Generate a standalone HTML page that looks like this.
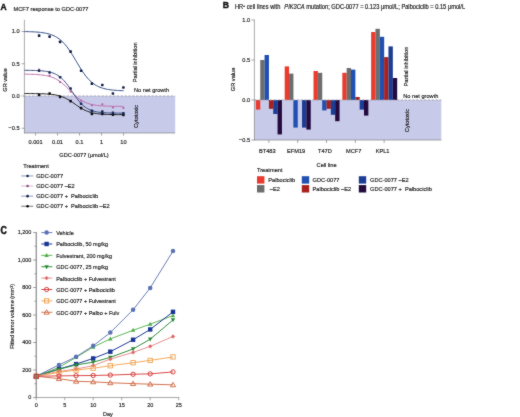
<!DOCTYPE html>
<html><head><meta charset="utf-8"><style>
html,body{margin:0;padding:0;background:#fff;}
svg{display:block;font-family:"Liberation Sans", sans-serif;}
text{stroke:#1c1c1c;stroke-width:0.16px;}
#w{width:520px;height:417px;overflow:hidden;will-change:transform;}
</style></head><body>
<div id="w"><svg width="520" height="417" viewBox="0 0 520 417">
<defs><filter id="bl" x="0" y="0" width="520" height="417" filterUnits="userSpaceOnUse" color-interpolation-filters="sRGB"><feConvolveMatrix order="3" kernelMatrix="1 2 1 2 24 2 1 2 1" edgeMode="duplicate"/></filter></defs>
<g filter="url(#bl)">
<rect width="520" height="417" fill="#fff"/>
<text transform="translate(0.55,9.75) scale(0.9,1)" x="0" y="0" font-size="9.4" font-weight="bold" fill="#111" style="stroke:#111;stroke-width:0.45px">A</text>
<text transform="translate(13.60,10.70) scale(1,1.1)" text-anchor="start" font-size="5.65" fill="#1c1c1c" >MCF7 response to GDC-0077</text>
<rect x="24.40" y="96.00" width="150.80" height="37.00" fill="#c8caea" />
<line x1="24.40" y1="96.00" x2="175.20" y2="96.00" stroke="#9e9eaa" stroke-width="0.9" stroke-dasharray="2.4 1.45"/>
<line x1="24.40" y1="19.80" x2="24.40" y2="133.30" stroke="#6e6e6e" stroke-width="0.6" />
<line x1="24.10" y1="133.00" x2="175.20" y2="133.00" stroke="#6e6e6e" stroke-width="0.6" />
<line x1="21.60" y1="31.50" x2="24.40" y2="31.50" stroke="#6e6e6e" stroke-width="0.6" />
<text transform="translate(19.60,33.40) scale(1,1.1)" text-anchor="end" font-size="5.65" fill="#1c1c1c" >1.0</text>
<line x1="21.60" y1="63.75" x2="24.40" y2="63.75" stroke="#6e6e6e" stroke-width="0.6" />
<text transform="translate(19.60,65.65) scale(1,1.1)" text-anchor="end" font-size="5.65" fill="#1c1c1c" >0.5</text>
<line x1="21.60" y1="96.00" x2="24.40" y2="96.00" stroke="#6e6e6e" stroke-width="0.6" />
<text transform="translate(19.60,97.90) scale(1,1.1)" text-anchor="end" font-size="5.65" fill="#1c1c1c" >0.0</text>
<line x1="21.60" y1="128.25" x2="24.40" y2="128.25" stroke="#6e6e6e" stroke-width="0.6" />
<text transform="translate(19.60,130.15) scale(1,1.1)" text-anchor="end" font-size="5.65" fill="#1c1c1c" >−0.5</text>
<line x1="35.50" y1="133.00" x2="35.50" y2="135.60" stroke="#6e6e6e" stroke-width="0.6" />
<text transform="translate(35.50,143.80) scale(1,1.1)" text-anchor="middle" font-size="5.65" fill="#1c1c1c" >0.001</text>
<line x1="57.50" y1="133.00" x2="57.50" y2="135.60" stroke="#6e6e6e" stroke-width="0.6" />
<text transform="translate(57.50,143.80) scale(1,1.1)" text-anchor="middle" font-size="5.65" fill="#1c1c1c" >0.01</text>
<line x1="79.50" y1="133.00" x2="79.50" y2="135.60" stroke="#6e6e6e" stroke-width="0.6" />
<text transform="translate(79.50,143.80) scale(1,1.1)" text-anchor="middle" font-size="5.65" fill="#1c1c1c" >0.1</text>
<line x1="101.50" y1="133.00" x2="101.50" y2="135.60" stroke="#6e6e6e" stroke-width="0.6" />
<text transform="translate(101.50,143.80) scale(1,1.1)" text-anchor="middle" font-size="5.65" fill="#1c1c1c" >1</text>
<line x1="123.50" y1="133.00" x2="123.50" y2="135.60" stroke="#6e6e6e" stroke-width="0.6" />
<text transform="translate(123.50,143.80) scale(1,1.1)" text-anchor="middle" font-size="5.65" fill="#1c1c1c" >10</text>
<text transform="translate(84.00,156.70) scale(1,1.1)" text-anchor="middle" font-size="5.65" fill="#1c1c1c" >GDC-0077 (μmol/L)</text>
<text transform="translate(4.30,80.00) rotate(-90) scale(1,1.1)" x="0" y="2.03" text-anchor="middle" font-size="5.65" fill="#1c1c1c">GR value</text>
<text transform="translate(134.00,92.00) scale(1,1.1)" text-anchor="start" font-size="5.65" fill="#1c1c1c" >No net growth</text>
<text transform="translate(134.60,62.30) rotate(-90) scale(1,1.1)" x="0" y="2.03" text-anchor="middle" font-size="5.65" fill="#1c1c1c">Partial inhibition</text>
<text transform="translate(136.00,116.40) rotate(-90) scale(1,1.1)" x="0" y="2.03" text-anchor="middle" font-size="5.65" fill="#1c1c1c">Cytotoxic</text>
<path d="M24.40,74.11 L25.64,74.13 L26.88,74.15 L28.12,74.18 L29.36,74.21 L30.60,74.25 L31.84,74.29 L33.08,74.33 L34.32,74.39 L35.56,74.45 L36.80,74.53 L38.04,74.62 L39.28,74.72 L40.52,74.83 L41.76,74.97 L43.00,75.13 L44.24,75.31 L45.48,75.51 L46.72,75.76 L47.96,76.03 L49.20,76.35 L50.44,76.71 L51.68,77.12 L52.92,77.58 L54.16,78.11 L55.40,78.70 L56.64,79.35 L57.88,80.08 L59.12,80.88 L60.36,81.76 L61.60,82.71 L62.84,83.74 L64.08,84.82 L65.32,85.97 L66.56,87.16 L67.80,88.39 L69.04,89.63 L70.28,90.89 L71.52,92.13 L72.76,93.36 L74.00,94.55 L75.24,95.69 L76.48,96.77 L77.72,97.78 L78.96,98.73 L80.20,99.60 L81.44,100.39 L82.68,101.11 L83.92,101.76 L85.16,102.35 L86.40,102.87 L87.64,103.32 L88.88,103.73 L90.12,104.09 L91.36,104.40 L92.60,104.67 L93.84,104.91 L95.08,105.11 L96.32,105.29 L97.56,105.45 L98.80,105.58 L100.04,105.69 L101.28,105.79 L102.52,105.88 L103.76,105.95 L105.00,106.02 L106.24,106.07 L107.48,106.12 L108.72,106.16 L109.96,106.19 L111.20,106.22 L112.44,106.25 L113.68,106.27 L114.92,106.29 L116.16,106.30 L117.40,106.32 L118.64,106.33 L119.88,106.34 L121.12,106.35 L122.36,106.36 L123.60,106.36" fill="none" stroke="#bd6fae" stroke-width="1.0"/>
<rect x="38.10" y="68.60" width="2.0" height="2.0" rx="0.7" fill="#b25ea2"/>
<rect x="48.60" y="74.60" width="2.0" height="2.0" rx="0.7" fill="#b25ea2"/>
<rect x="59.10" y="81.10" width="2.0" height="2.0" rx="0.7" fill="#b25ea2"/>
<rect x="69.60" y="90.60" width="2.0" height="2.0" rx="0.7" fill="#b25ea2"/>
<rect x="80.10" y="99.80" width="2.0" height="2.0" rx="0.7" fill="#b25ea2"/>
<rect x="90.90" y="104.20" width="2.0" height="2.0" rx="0.7" fill="#b25ea2"/>
<rect x="101.30" y="103.20" width="2.0" height="2.0" rx="0.7" fill="#b25ea2"/>
<rect x="111.90" y="106.40" width="2.0" height="2.0" rx="0.7" fill="#b25ea2"/>
<rect x="122.40" y="106.90" width="2.0" height="2.0" rx="0.7" fill="#b25ea2"/>
<path d="M24.40,93.52 L25.64,93.53 L26.88,93.53 L28.12,93.54 L29.36,93.55 L30.60,93.56 L31.84,93.57 L33.08,93.58 L34.32,93.59 L35.56,93.61 L36.80,93.63 L38.04,93.65 L39.28,93.68 L40.52,93.71 L41.76,93.75 L43.00,93.79 L44.24,93.85 L45.48,93.91 L46.72,93.98 L47.96,94.06 L49.20,94.16 L50.44,94.27 L51.68,94.41 L52.92,94.56 L54.16,94.74 L55.40,94.95 L56.64,95.19 L57.88,95.46 L59.12,95.78 L60.36,96.14 L61.60,96.54 L62.84,97.00 L64.08,97.51 L65.32,98.07 L66.56,98.69 L67.80,99.37 L69.04,100.10 L70.28,100.87 L71.52,101.68 L72.76,102.53 L74.00,103.39 L75.24,104.27 L76.48,105.14 L77.72,106.00 L78.96,106.84 L80.20,107.63 L81.44,108.39 L82.68,109.10 L83.92,109.75 L85.16,110.35 L86.40,110.90 L87.64,111.38 L88.88,111.82 L90.12,112.21 L91.36,112.55 L92.60,112.85 L93.84,113.11 L95.08,113.34 L96.32,113.53 L97.56,113.70 L98.80,113.85 L100.04,113.97 L101.28,114.08 L102.52,114.17 L103.76,114.25 L105.00,114.32 L106.24,114.38 L107.48,114.42 L108.72,114.47 L109.96,114.50 L111.20,114.53 L112.44,114.56 L113.68,114.58 L114.92,114.60 L116.16,114.61 L117.40,114.63 L118.64,114.64 L119.88,114.65 L121.12,114.65 L122.36,114.66 L123.60,114.67" fill="none" stroke="#1a1a1a" stroke-width="1.0"/>
<rect x="37.80" y="93.70" width="2.6" height="2.6" rx="0.7" fill="#0d0d0d"/>
<rect x="48.30" y="92.20" width="2.6" height="2.6" rx="0.7" fill="#0d0d0d"/>
<rect x="58.80" y="95.60" width="2.6" height="2.6" rx="0.7" fill="#0d0d0d"/>
<rect x="69.30" y="99.80" width="2.6" height="2.6" rx="0.7" fill="#0d0d0d"/>
<rect x="79.80" y="106.80" width="2.6" height="2.6" rx="0.7" fill="#0d0d0d"/>
<rect x="90.60" y="112.70" width="2.6" height="2.6" rx="0.7" fill="#0d0d0d"/>
<rect x="101.00" y="112.70" width="2.6" height="2.6" rx="0.7" fill="#0d0d0d"/>
<rect x="111.60" y="113.40" width="2.6" height="2.6" rx="0.7" fill="#0d0d0d"/>
<rect x="122.10" y="113.70" width="2.6" height="2.6" rx="0.7" fill="#0d0d0d"/>
<path d="M24.40,70.31 L25.64,70.32 L26.88,70.33 L28.12,70.34 L29.36,70.36 L30.60,70.38 L31.84,70.41 L33.08,70.44 L34.32,70.47 L35.56,70.51 L36.80,70.56 L38.04,70.62 L39.28,70.69 L40.52,70.77 L41.76,70.87 L43.00,70.98 L44.24,71.12 L45.48,71.28 L46.72,71.46 L47.96,71.68 L49.20,71.94 L50.44,72.24 L51.68,72.60 L52.92,73.01 L54.16,73.49 L55.40,74.05 L56.64,74.69 L57.88,75.42 L59.12,76.26 L60.36,77.20 L61.60,78.26 L62.84,79.45 L64.08,80.75 L65.32,82.18 L66.56,83.72 L67.80,85.36 L69.04,87.09 L70.28,88.88 L71.52,90.71 L72.76,92.56 L74.00,94.40 L75.24,96.19 L76.48,97.93 L77.72,99.58 L78.96,101.13 L80.20,102.56 L81.44,103.88 L82.68,105.08 L83.92,106.15 L85.16,107.11 L86.40,107.95 L87.64,108.70 L88.88,109.35 L90.12,109.91 L91.36,110.40 L92.60,110.81 L93.84,111.17 L95.08,111.48 L96.32,111.74 L97.56,111.97 L98.80,112.16 L100.04,112.32 L101.28,112.46 L102.52,112.57 L103.76,112.67 L105.00,112.75 L106.24,112.82 L107.48,112.88 L108.72,112.93 L109.96,112.97 L111.20,113.01 L112.44,113.04 L113.68,113.07 L114.92,113.09 L116.16,113.10 L117.40,113.12 L118.64,113.13 L119.88,113.14 L121.12,113.15 L122.36,113.16 L123.60,113.17" fill="none" stroke="#3a4b7c" stroke-width="1.0"/>
<rect x="37.80" y="69.40" width="2.6" height="2.6" rx="0.7" fill="#152a5a"/>
<rect x="48.30" y="71.20" width="2.6" height="2.6" rx="0.7" fill="#152a5a"/>
<rect x="58.80" y="75.90" width="2.6" height="2.6" rx="0.7" fill="#152a5a"/>
<rect x="69.30" y="87.20" width="2.6" height="2.6" rx="0.7" fill="#152a5a"/>
<rect x="79.80" y="102.40" width="2.6" height="2.6" rx="0.7" fill="#152a5a"/>
<rect x="90.60" y="109.60" width="2.6" height="2.6" rx="0.7" fill="#152a5a"/>
<rect x="101.00" y="110.30" width="2.6" height="2.6" rx="0.7" fill="#152a5a"/>
<rect x="111.60" y="111.40" width="2.6" height="2.6" rx="0.7" fill="#152a5a"/>
<rect x="122.10" y="112.10" width="2.6" height="2.6" rx="0.7" fill="#152a5a"/>
<path d="M24.40,31.57 L25.64,31.59 L26.88,31.62 L28.12,31.65 L29.36,31.69 L30.60,31.73 L31.84,31.78 L33.08,31.84 L34.32,31.91 L35.56,31.98 L36.80,32.07 L38.04,32.17 L39.28,32.28 L40.52,32.42 L41.76,32.57 L43.00,32.74 L44.24,32.94 L45.48,33.16 L46.72,33.42 L47.96,33.71 L49.20,34.05 L50.44,34.43 L51.68,34.86 L52.92,35.35 L54.16,35.90 L55.40,36.52 L56.64,37.22 L57.88,38.01 L59.12,38.88 L60.36,39.85 L61.60,40.93 L62.84,42.11 L64.08,43.41 L65.32,44.81 L66.56,46.34 L67.80,47.97 L69.04,49.70 L70.28,51.54 L71.52,53.46 L72.76,55.45 L74.00,57.49 L75.24,59.58 L76.48,61.67 L77.72,63.77 L78.96,65.84 L80.20,67.86 L81.44,69.82 L82.68,71.70 L83.92,73.49 L85.16,75.18 L86.40,76.77 L87.64,78.24 L88.88,79.59 L90.12,80.84 L91.36,81.97 L92.60,83.00 L93.84,83.92 L95.08,84.76 L96.32,85.50 L97.56,86.17 L98.80,86.76 L100.04,87.28 L101.28,87.74 L102.52,88.15 L103.76,88.51 L105.00,88.82 L106.24,89.10 L107.48,89.34 L108.72,89.56 L109.96,89.74 L111.20,89.90 L112.44,90.05 L113.68,90.17 L114.92,90.28 L116.16,90.37 L117.40,90.45 L118.64,90.52 L119.88,90.59 L121.12,90.64 L122.36,90.69 L123.60,90.73" fill="none" stroke="#324d88" stroke-width="1.0"/>
<rect x="37.80" y="34.30" width="2.6" height="2.6" rx="0.7" fill="#101c40"/>
<rect x="48.30" y="35.30" width="2.6" height="2.6" rx="0.7" fill="#101c40"/>
<rect x="58.80" y="40.60" width="2.6" height="2.6" rx="0.7" fill="#101c40"/>
<rect x="69.30" y="50.30" width="2.6" height="2.6" rx="0.7" fill="#101c40"/>
<rect x="79.80" y="69.40" width="2.6" height="2.6" rx="0.7" fill="#101c40"/>
<rect x="90.60" y="82.30" width="2.6" height="2.6" rx="0.7" fill="#101c40"/>
<rect x="101.00" y="83.70" width="2.6" height="2.6" rx="0.7" fill="#101c40"/>
<rect x="111.60" y="92.20" width="2.6" height="2.6" rx="0.7" fill="#101c40"/>
<rect x="122.10" y="86.20" width="2.6" height="2.6" rx="0.7" fill="#101c40"/>
<text transform="translate(23.30,167.70) scale(1,1.1)" text-anchor="start" font-size="5.65" fill="#1c1c1c" >Treatment</text>
<line x1="21.20" y1="175.95" x2="33.20" y2="175.95" stroke="#4d62a0" stroke-width="0.65" />
<circle cx="27.6" cy="175.95" r="1.3" fill="#141f44"/>
<text transform="translate(36.20,177.85) scale(1,1.1)" text-anchor="start" font-size="5.65" fill="#1c1c1c" >GDC-0077</text>
<line x1="21.20" y1="186.05" x2="33.20" y2="186.05" stroke="#c58cbc" stroke-width="0.65" />
<circle cx="27.6" cy="186.04999999999998" r="1.3" fill="#8c4a80"/>
<text transform="translate(36.20,187.95) scale(1,1.1)" text-anchor="start" font-size="5.65" fill="#1c1c1c" >GDC-0077 –E2</text>
<line x1="21.20" y1="196.15" x2="33.20" y2="196.15" stroke="#4d62a0" stroke-width="0.65" />
<circle cx="27.6" cy="196.14999999999998" r="1.3" fill="#141f44"/>
<text transform="translate(36.20,198.05) scale(1,1.1)" text-anchor="start" font-size="5.65" fill="#1c1c1c" >GDC-0077 +&#160; Palbociclib</text>
<line x1="21.20" y1="206.25" x2="33.20" y2="206.25" stroke="#2a2a2a" stroke-width="0.65" />
<circle cx="27.6" cy="206.25" r="1.3" fill="#000"/>
<text transform="translate(36.20,208.15) scale(1,1.1)" text-anchor="start" font-size="5.65" fill="#1c1c1c" >GDC-0077 +&#160; Palbociclib –E2</text>
<text transform="translate(222.7,8.1) scale(0.92,1)" x="0" y="0" font-size="9.4" font-weight="bold" fill="#111" style="stroke:#111;stroke-width:0.45px">B</text>
<text transform="translate(235,8.80) scale(1,1.1)" font-size="5.72" fill="#1c1c1c">HR<tspan font-size="3.8" dy="-2.0" dx="-0.3">+</tspan><tspan dy="2.0"> cell lines with </tspan><tspan font-style="italic" dx="2.4">PIK3CA</tspan> mutation; GDC-0077 = 0.123 μmol/L; Palbociclib = 0.15 μmol/L</text>
<rect x="254.40" y="100.00" width="186.90" height="40.00" fill="#c8caea" />
<rect x="255.90" y="100.00" width="4.38" height="9.60" fill="#eb3a2e" />
<rect x="260.23" y="60.00" width="4.38" height="40.00" fill="#6c6e6e" />
<rect x="264.56" y="55.00" width="4.38" height="45.00" fill="#1f50b2" />
<rect x="268.89" y="100.00" width="4.38" height="8.80" fill="#a8211c" />
<rect x="273.22" y="100.00" width="4.38" height="14.00" fill="#1b3d94" />
<rect x="277.55" y="100.00" width="4.38" height="34.40" fill="#240a3e" />
<rect x="284.71" y="66.40" width="4.38" height="33.60" fill="#eb3a2e" />
<rect x="289.04" y="73.60" width="4.38" height="26.40" fill="#6c6e6e" />
<rect x="293.37" y="100.00" width="4.38" height="27.60" fill="#1f50b2" />
<rect x="297.70" y="100.00" width="4.38" height="0.00" fill="#a8211c" />
<rect x="302.03" y="100.00" width="4.38" height="27.60" fill="#1b3d94" />
<rect x="306.36" y="100.00" width="4.38" height="29.60" fill="#240a3e" />
<rect x="313.52" y="71.00" width="4.38" height="29.00" fill="#eb3a2e" />
<rect x="317.85" y="72.80" width="4.38" height="27.20" fill="#6c6e6e" />
<rect x="322.18" y="100.00" width="4.38" height="10.40" fill="#1f50b2" />
<rect x="326.51" y="100.00" width="4.38" height="8.80" fill="#a8211c" />
<rect x="330.84" y="100.00" width="4.38" height="14.80" fill="#1b3d94" />
<rect x="335.17" y="100.00" width="4.38" height="21.20" fill="#240a3e" />
<rect x="342.33" y="72.80" width="4.38" height="27.20" fill="#eb3a2e" />
<rect x="346.66" y="68.00" width="4.38" height="32.00" fill="#6c6e6e" />
<rect x="350.99" y="69.60" width="4.38" height="30.40" fill="#1f50b2" />
<rect x="355.32" y="97.00" width="4.38" height="3.00" fill="#a8211c" />
<rect x="359.65" y="100.00" width="4.38" height="9.60" fill="#1b3d94" />
<rect x="363.98" y="100.00" width="4.38" height="15.60" fill="#240a3e" />
<rect x="371.14" y="32.00" width="4.38" height="68.00" fill="#eb3a2e" />
<rect x="375.47" y="28.80" width="4.38" height="71.20" fill="#6c6e6e" />
<rect x="379.80" y="36.80" width="4.38" height="63.20" fill="#1f50b2" />
<rect x="384.13" y="57.12" width="4.38" height="42.88" fill="#a8211c" />
<rect x="388.46" y="46.40" width="4.38" height="53.60" fill="#1b3d94" />
<rect x="392.79" y="78.00" width="4.38" height="22.00" fill="#240a3e" />
<line x1="254.40" y1="100.00" x2="441.30" y2="100.00" stroke="#9e9eaa" stroke-width="0.9" stroke-dasharray="2.4 1.45"/>
<line x1="254.40" y1="19.60" x2="254.40" y2="140.30" stroke="#6e6e6e" stroke-width="0.6" />
<line x1="254.10" y1="140.00" x2="441.30" y2="140.00" stroke="#6e6e6e" stroke-width="0.6" />
<line x1="251.30" y1="20.00" x2="254.40" y2="20.00" stroke="#6e6e6e" stroke-width="0.6" />
<text transform="translate(250.20,21.90) scale(1,1.1)" text-anchor="end" font-size="5.65" fill="#1c1c1c" >1.0</text>
<line x1="251.30" y1="60.00" x2="254.40" y2="60.00" stroke="#6e6e6e" stroke-width="0.6" />
<text transform="translate(250.20,61.90) scale(1,1.1)" text-anchor="end" font-size="5.65" fill="#1c1c1c" >0.5</text>
<line x1="251.30" y1="100.00" x2="254.40" y2="100.00" stroke="#6e6e6e" stroke-width="0.6" />
<text transform="translate(250.20,101.90) scale(1,1.1)" text-anchor="end" font-size="5.65" fill="#1c1c1c" >0.0</text>
<line x1="251.30" y1="140.00" x2="254.40" y2="140.00" stroke="#6e6e6e" stroke-width="0.6" />
<text transform="translate(250.20,141.90) scale(1,1.1)" text-anchor="end" font-size="5.65" fill="#1c1c1c" >−0.5</text>
<line x1="268.89" y1="140.00" x2="268.89" y2="143.00" stroke="#6e6e6e" stroke-width="0.6" />
<text transform="translate(267.29,152.90) scale(1,1.1)" text-anchor="middle" font-size="5.65" fill="#1c1c1c" >BT483</text>
<line x1="297.70" y1="140.00" x2="297.70" y2="143.00" stroke="#6e6e6e" stroke-width="0.6" />
<text transform="translate(296.10,152.90) scale(1,1.1)" text-anchor="middle" font-size="5.65" fill="#1c1c1c" >EFM19</text>
<line x1="326.51" y1="140.00" x2="326.51" y2="143.00" stroke="#6e6e6e" stroke-width="0.6" />
<text transform="translate(324.91,152.90) scale(1,1.1)" text-anchor="middle" font-size="5.65" fill="#1c1c1c" >T47D</text>
<line x1="355.32" y1="140.00" x2="355.32" y2="143.00" stroke="#6e6e6e" stroke-width="0.6" />
<text transform="translate(353.72,152.90) scale(1,1.1)" text-anchor="middle" font-size="5.65" fill="#1c1c1c" >MCF7</text>
<line x1="384.13" y1="140.00" x2="384.13" y2="143.00" stroke="#6e6e6e" stroke-width="0.6" />
<text transform="translate(382.53,152.90) scale(1,1.1)" text-anchor="middle" font-size="5.65" fill="#1c1c1c" >KPL1</text>
<text transform="translate(326.60,166.80) scale(1,1.1)" text-anchor="middle" font-size="5.65" fill="#1c1c1c" >Cell line</text>
<text transform="translate(232.80,79.40) rotate(-90) scale(1,1.1)" x="0" y="2.03" text-anchor="middle" font-size="5.65" fill="#1c1c1c">GR value</text>
<text transform="translate(403.30,97.70) scale(1,1.1)" text-anchor="start" font-size="5.65" fill="#1c1c1c" >No net growth</text>
<text transform="translate(405.90,66.50) rotate(-90) scale(1,1.1)" x="0" y="2.03" text-anchor="middle" font-size="5.65" fill="#1c1c1c">Partial inhibition</text>
<text transform="translate(407.20,120.60) rotate(-90) scale(1,1.1)" x="0" y="2.03" text-anchor="middle" font-size="5.65" fill="#1c1c1c">Cytotoxic</text>
<text transform="translate(257.00,171.90) scale(1,1.1)" text-anchor="start" font-size="5.65" fill="#1c1c1c" >Treatment</text>
<rect x="257.00" y="176.20" width="7.40" height="7.40" fill="#eb3a2e" />
<text transform="translate(268.30,181.90) scale(1,1.1)" text-anchor="start" font-size="5.65" fill="#1c1c1c" >Palbociclib</text>
<rect x="257.00" y="185.10" width="7.40" height="7.40" fill="#6c6e6e" />
<text transform="translate(268.30,191.15) scale(1,1.1)" text-anchor="start" font-size="5.65" fill="#1c1c1c" >&#160;–E2</text>
<rect x="301.80" y="176.20" width="7.40" height="7.40" fill="#1f50b2" />
<text transform="translate(312.50,181.90) scale(1,1.1)" text-anchor="start" font-size="5.65" fill="#1c1c1c" >GDC-0077</text>
<rect x="301.80" y="185.10" width="7.40" height="7.40" fill="#a8211c" />
<text transform="translate(312.50,191.15) scale(1,1.1)" text-anchor="start" font-size="5.65" fill="#1c1c1c" >Palbociclib –E2</text>
<rect x="358.80" y="176.20" width="7.40" height="7.40" fill="#1b3d94" />
<text transform="translate(370.00,181.90) scale(1,1.1)" text-anchor="start" font-size="5.65" fill="#1c1c1c" >GDC-0077 –E2</text>
<rect x="358.80" y="185.10" width="7.40" height="7.40" fill="#240a3e" />
<text transform="translate(370.00,191.15) scale(1,1.1)" text-anchor="start" font-size="5.65" fill="#1c1c1c" >GDC-0077 +&#160; Palbociclib</text>
<text transform="translate(0.6,233.5) scale(0.88,1.04)" x="0" y="0" font-size="10" font-weight="bold" fill="#111" style="stroke:#111;stroke-width:0.45px">C</text>
<line x1="36.25" y1="232.20" x2="36.25" y2="397.80" stroke="#6e6e6e" stroke-width="0.6" />
<line x1="35.95" y1="397.50" x2="179.20" y2="397.50" stroke="#6e6e6e" stroke-width="0.6" />
<line x1="33.00" y1="397.50" x2="36.25" y2="397.50" stroke="#6e6e6e" stroke-width="0.6" />
<text transform="translate(31.40,399.45) scale(1,1.1)" text-anchor="end" font-size="5.5" fill="#1c1c1c" >0</text>
<line x1="34.40" y1="383.75" x2="36.25" y2="383.75" stroke="#6e6e6e" stroke-width="0.6" />
<line x1="33.00" y1="370.00" x2="36.25" y2="370.00" stroke="#6e6e6e" stroke-width="0.6" />
<text transform="translate(31.40,371.95) scale(1,1.1)" text-anchor="end" font-size="5.5" fill="#1c1c1c" >200</text>
<line x1="34.40" y1="356.25" x2="36.25" y2="356.25" stroke="#6e6e6e" stroke-width="0.6" />
<line x1="33.00" y1="342.50" x2="36.25" y2="342.50" stroke="#6e6e6e" stroke-width="0.6" />
<text transform="translate(31.40,344.45) scale(1,1.1)" text-anchor="end" font-size="5.5" fill="#1c1c1c" >400</text>
<line x1="34.40" y1="328.75" x2="36.25" y2="328.75" stroke="#6e6e6e" stroke-width="0.6" />
<line x1="33.00" y1="315.00" x2="36.25" y2="315.00" stroke="#6e6e6e" stroke-width="0.6" />
<text transform="translate(31.40,316.95) scale(1,1.1)" text-anchor="end" font-size="5.5" fill="#1c1c1c" >600</text>
<line x1="34.40" y1="301.25" x2="36.25" y2="301.25" stroke="#6e6e6e" stroke-width="0.6" />
<line x1="33.00" y1="287.50" x2="36.25" y2="287.50" stroke="#6e6e6e" stroke-width="0.6" />
<text transform="translate(31.40,289.45) scale(1,1.1)" text-anchor="end" font-size="5.5" fill="#1c1c1c" >800</text>
<line x1="34.40" y1="273.75" x2="36.25" y2="273.75" stroke="#6e6e6e" stroke-width="0.6" />
<line x1="33.00" y1="260.00" x2="36.25" y2="260.00" stroke="#6e6e6e" stroke-width="0.6" />
<text transform="translate(31.40,261.95) scale(1,1.1)" text-anchor="end" font-size="5.5" fill="#1c1c1c" >1,000</text>
<line x1="34.40" y1="246.25" x2="36.25" y2="246.25" stroke="#6e6e6e" stroke-width="0.6" />
<line x1="33.00" y1="232.50" x2="36.25" y2="232.50" stroke="#6e6e6e" stroke-width="0.6" />
<text transform="translate(31.40,234.45) scale(1,1.1)" text-anchor="end" font-size="5.5" fill="#1c1c1c" >1,200</text>
<line x1="36.20" y1="397.50" x2="36.20" y2="400.30" stroke="#6e6e6e" stroke-width="0.6" />
<text transform="translate(36.20,407.45) scale(1,1.1)" text-anchor="middle" font-size="5.5" fill="#1c1c1c" >0</text>
<line x1="64.70" y1="397.50" x2="64.70" y2="400.30" stroke="#6e6e6e" stroke-width="0.6" />
<text transform="translate(64.70,407.45) scale(1,1.1)" text-anchor="middle" font-size="5.5" fill="#1c1c1c" >5</text>
<line x1="93.20" y1="397.50" x2="93.20" y2="400.30" stroke="#6e6e6e" stroke-width="0.6" />
<text transform="translate(93.20,407.45) scale(1,1.1)" text-anchor="middle" font-size="5.5" fill="#1c1c1c" >10</text>
<line x1="121.70" y1="397.50" x2="121.70" y2="400.30" stroke="#6e6e6e" stroke-width="0.6" />
<text transform="translate(121.70,407.45) scale(1,1.1)" text-anchor="middle" font-size="5.5" fill="#1c1c1c" >15</text>
<line x1="150.20" y1="397.50" x2="150.20" y2="400.30" stroke="#6e6e6e" stroke-width="0.6" />
<text transform="translate(150.20,407.45) scale(1,1.1)" text-anchor="middle" font-size="5.5" fill="#1c1c1c" >20</text>
<line x1="178.70" y1="397.50" x2="178.70" y2="400.30" stroke="#6e6e6e" stroke-width="0.6" />
<text transform="translate(178.70,407.45) scale(1,1.1)" text-anchor="middle" font-size="5.5" fill="#1c1c1c" >25</text>
<text transform="translate(107.80,416.05) scale(1,1.1)" text-anchor="middle" font-size="5.5" fill="#1c1c1c" >Day</text>
<text transform="translate(12.3,316.4) rotate(-90) scale(1,1.1)" x="0" y="1.98" text-anchor="middle" font-size="5.5" fill="#1c1c1c">Fitted tumor volume (mm<tspan font-size="3.6" dy="-1.6">3</tspan><tspan dy="1.6">)</tspan></text>
<path d="M36.20,376.19 L59.00,367.39 L76.10,357.35 L93.20,347.04 L110.30,338.93 L133.10,330.26 L150.20,324.21 L173.00,315.55" fill="none" stroke="#5db858" stroke-width="1.0"/>
<path d="M36.20,373.79 L38.40,377.79 L34.00,377.79Z" fill="#4fae4a"/>
<path d="M59.00,364.99 L61.20,368.99 L56.80,368.99Z" fill="#4fae4a"/>
<path d="M76.10,354.95 L78.30,358.95 L73.90,358.95Z" fill="#4fae4a"/>
<path d="M93.20,344.64 L95.40,348.64 L91.00,348.64Z" fill="#4fae4a"/>
<path d="M110.30,336.53 L112.50,340.53 L108.10,340.53Z" fill="#4fae4a"/>
<path d="M133.10,327.86 L135.30,331.86 L130.90,331.86Z" fill="#4fae4a"/>
<path d="M150.20,321.81 L152.40,325.81 L148.00,325.81Z" fill="#4fae4a"/>
<path d="M173.00,313.15 L175.20,317.15 L170.80,317.15Z" fill="#4fae4a"/>
<path d="M36.20,376.19 L59.00,364.91 L76.10,356.80 L93.20,345.80 L110.30,332.60 L133.10,309.77 L150.20,287.91 L173.00,251.06" fill="none" stroke="#6b7db8" stroke-width="1.0"/>
<circle cx="36.20" cy="376.19" r="2.25" fill="#5b72b6"/>
<circle cx="59.00" cy="364.91" r="2.25" fill="#5b72b6"/>
<circle cx="76.10" cy="356.80" r="2.25" fill="#5b72b6"/>
<circle cx="93.20" cy="345.80" r="2.25" fill="#5b72b6"/>
<circle cx="110.30" cy="332.60" r="2.25" fill="#5b72b6"/>
<circle cx="133.10" cy="309.77" r="2.25" fill="#5b72b6"/>
<circle cx="150.20" cy="287.91" r="2.25" fill="#5b72b6"/>
<circle cx="173.00" cy="251.06" r="2.25" fill="#5b72b6"/>
<path d="M36.20,376.19 L59.00,369.04 L76.10,364.09 L93.20,358.45 L110.30,351.71 L133.10,339.75 L150.20,329.44 L173.00,311.84" fill="none" stroke="#1f3a94" stroke-width="1.0"/>
<rect x="34.00" y="373.99" width="4.4" height="4.4" fill="#1a3596"/>
<rect x="56.80" y="366.84" width="4.4" height="4.4" fill="#1a3596"/>
<rect x="73.90" y="361.89" width="4.4" height="4.4" fill="#1a3596"/>
<rect x="91.00" y="356.25" width="4.4" height="4.4" fill="#1a3596"/>
<rect x="108.10" y="349.51" width="4.4" height="4.4" fill="#1a3596"/>
<rect x="130.90" y="337.55" width="4.4" height="4.4" fill="#1a3596"/>
<rect x="148.00" y="327.24" width="4.4" height="4.4" fill="#1a3596"/>
<rect x="170.80" y="309.64" width="4.4" height="4.4" fill="#1a3596"/>
<path d="M36.20,376.19 L59.00,369.31 L76.10,364.91 L93.20,362.16 L110.30,357.35 L133.10,348.96 L150.20,339.20 L173.00,319.95" fill="none" stroke="#2f8d3d" stroke-width="1.0"/>
<path d="M36.20,378.59 L38.40,374.59 L34.00,374.59Z" fill="#278a36"/>
<path d="M59.00,371.71 L61.20,367.71 L56.80,367.71Z" fill="#278a36"/>
<path d="M76.10,367.31 L78.30,363.31 L73.90,363.31Z" fill="#278a36"/>
<path d="M93.20,364.56 L95.40,360.56 L91.00,360.56Z" fill="#278a36"/>
<path d="M110.30,359.75 L112.50,355.75 L108.10,355.75Z" fill="#278a36"/>
<path d="M133.10,351.36 L135.30,347.36 L130.90,347.36Z" fill="#278a36"/>
<path d="M150.20,341.60 L152.40,337.60 L148.00,337.60Z" fill="#278a36"/>
<path d="M173.00,322.35 L175.20,318.35 L170.80,318.35Z" fill="#278a36"/>
<path d="M36.20,376.19 L59.00,371.51 L76.10,369.04 L93.20,365.60 L110.30,359.14 L133.10,352.40 L150.20,346.35 L173.00,336.45" fill="none" stroke="#eb8f8f" stroke-width="1.0"/>
<path d="M36.20,373.99 L38.30,376.19 L36.20,378.39 L34.10,376.19Z" fill="#df6a6a"/>
<path d="M59.00,369.31 L61.10,371.51 L59.00,373.71 L56.90,371.51Z" fill="#df6a6a"/>
<path d="M76.10,366.84 L78.20,369.04 L76.10,371.24 L74.00,369.04Z" fill="#df6a6a"/>
<path d="M93.20,363.40 L95.30,365.60 L93.20,367.80 L91.10,365.60Z" fill="#df6a6a"/>
<path d="M110.30,356.94 L112.40,359.14 L110.30,361.34 L108.20,359.14Z" fill="#df6a6a"/>
<path d="M133.10,350.20 L135.20,352.40 L133.10,354.60 L131.00,352.40Z" fill="#df6a6a"/>
<path d="M150.20,344.15 L152.30,346.35 L150.20,348.55 L148.10,346.35Z" fill="#df6a6a"/>
<path d="M173.00,334.25 L175.10,336.45 L173.00,338.65 L170.90,336.45Z" fill="#df6a6a"/>
<path d="M36.20,376.19 L59.00,372.34 L76.10,370.00 L93.20,368.21 L110.30,365.74 L133.10,362.71 L150.20,360.38 L173.00,356.94" fill="none" stroke="#f2aa5a" stroke-width="1.0"/>
<rect x="34.05" y="374.04" width="4.3" height="4.3" fill="none" stroke="#efa04c" stroke-width="0.9"/>
<rect x="56.85" y="370.19" width="4.3" height="4.3" fill="none" stroke="#efa04c" stroke-width="0.9"/>
<rect x="73.95" y="367.85" width="4.3" height="4.3" fill="none" stroke="#efa04c" stroke-width="0.9"/>
<rect x="91.05" y="366.06" width="4.3" height="4.3" fill="none" stroke="#efa04c" stroke-width="0.9"/>
<rect x="108.15" y="363.59" width="4.3" height="4.3" fill="none" stroke="#efa04c" stroke-width="0.9"/>
<rect x="130.95" y="360.56" width="4.3" height="4.3" fill="none" stroke="#efa04c" stroke-width="0.9"/>
<rect x="148.05" y="358.23" width="4.3" height="4.3" fill="none" stroke="#efa04c" stroke-width="0.9"/>
<rect x="170.85" y="354.79" width="4.3" height="4.3" fill="none" stroke="#efa04c" stroke-width="0.9"/>
<path d="M36.20,376.19 L59.00,378.66 L76.10,381.27 L93.20,381.83 L110.30,382.79 L133.10,383.61 L150.20,384.16 L173.00,384.85" fill="none" stroke="#d27450" stroke-width="1.0"/>
<path d="M36.20,373.69 L38.80,378.09 L33.60,378.09Z" fill="none" stroke="#cc6440" stroke-width="0.9"/>
<path d="M59.00,376.16 L61.60,380.56 L56.40,380.56Z" fill="none" stroke="#cc6440" stroke-width="0.9"/>
<path d="M76.10,378.77 L78.70,383.17 L73.50,383.17Z" fill="none" stroke="#cc6440" stroke-width="0.9"/>
<path d="M93.20,379.33 L95.80,383.73 L90.60,383.73Z" fill="none" stroke="#cc6440" stroke-width="0.9"/>
<path d="M110.30,380.29 L112.90,384.69 L107.70,384.69Z" fill="none" stroke="#cc6440" stroke-width="0.9"/>
<path d="M133.10,381.11 L135.70,385.51 L130.50,385.51Z" fill="none" stroke="#cc6440" stroke-width="0.9"/>
<path d="M150.20,381.66 L152.80,386.06 L147.60,386.06Z" fill="none" stroke="#cc6440" stroke-width="0.9"/>
<path d="M173.00,382.35 L175.60,386.75 L170.40,386.75Z" fill="none" stroke="#cc6440" stroke-width="0.9"/>
<path d="M36.20,376.19 L59.00,375.91 L76.10,375.64 L93.20,375.50 L110.30,375.09 L133.10,374.26 L150.20,373.85 L173.00,371.93" fill="none" stroke="#dc4848" stroke-width="1.0"/>
<circle cx="36.20" cy="376.19" r="2.15" fill="none" stroke="#d63838" stroke-width="0.95"/>
<circle cx="59.00" cy="375.91" r="2.15" fill="none" stroke="#d63838" stroke-width="0.95"/>
<circle cx="76.10" cy="375.64" r="2.15" fill="none" stroke="#d63838" stroke-width="0.95"/>
<circle cx="93.20" cy="375.50" r="2.15" fill="none" stroke="#d63838" stroke-width="0.95"/>
<circle cx="110.30" cy="375.09" r="2.15" fill="none" stroke="#d63838" stroke-width="0.95"/>
<circle cx="133.10" cy="374.26" r="2.15" fill="none" stroke="#d63838" stroke-width="0.95"/>
<circle cx="150.20" cy="373.85" r="2.15" fill="none" stroke="#d63838" stroke-width="0.95"/>
<circle cx="173.00" cy="371.93" r="2.15" fill="none" stroke="#d63838" stroke-width="0.95"/>
<rect x="34.1" y="374.2" width="4.5" height="4.5" fill="#c96658" stroke="#a8443a" stroke-width="0.7"/>
<line x1="36.25" y1="232.20" x2="36.25" y2="397.80" stroke="#6e6e6e" stroke-width="0.6" />
<line x1="41.30" y1="232.60" x2="52.30" y2="232.60" stroke="#6b7db8" stroke-width="1.0" />
<circle cx="46.60" cy="232.60" r="2.25" fill="#5b72b6"/>
<text transform="translate(56.20,235.05) scale(1,1.1)" text-anchor="start" font-size="5.5" fill="#1c1c1c" >Vehicle</text>
<line x1="41.30" y1="243.98" x2="52.30" y2="243.98" stroke="#1f3a94" stroke-width="1.0" />
<rect x="44.40" y="241.78" width="4.4" height="4.4" fill="#1a3596"/>
<text transform="translate(56.20,246.43) scale(1,1.1)" text-anchor="start" font-size="5.5" fill="#1c1c1c" >Palbociclib, 50 mg/kg</text>
<line x1="41.30" y1="255.36" x2="52.30" y2="255.36" stroke="#5db858" stroke-width="1.0" />
<path d="M46.60,252.96 L48.80,256.96 L44.40,256.96Z" fill="#4fae4a"/>
<text transform="translate(56.20,257.81) scale(1,1.1)" text-anchor="start" font-size="5.5" fill="#1c1c1c" >Fulvestrant, 200 mg/kg</text>
<line x1="41.30" y1="266.74" x2="52.30" y2="266.74" stroke="#2f8d3d" stroke-width="1.0" />
<path d="M46.60,269.14 L48.80,265.14 L44.40,265.14Z" fill="#278a36"/>
<text transform="translate(56.20,269.19) scale(1,1.1)" text-anchor="start" font-size="5.5" fill="#1c1c1c" >GDC-0077, 25 mg/kg</text>
<line x1="41.30" y1="278.12" x2="52.30" y2="278.12" stroke="#eb8f8f" stroke-width="1.0" />
<path d="M46.60,275.92 L48.70,278.12 L46.60,280.32 L44.50,278.12Z" fill="#df6a6a"/>
<text transform="translate(56.20,280.57) scale(1,1.1)" text-anchor="start" font-size="5.5" fill="#1c1c1c" >Palbociclib + Fulvestrant</text>
<line x1="41.30" y1="289.50" x2="52.30" y2="289.50" stroke="#dc4848" stroke-width="1.0" />
<circle cx="46.60" cy="289.50" r="2.15" fill="none" stroke="#d63838" stroke-width="0.95"/>
<text transform="translate(56.20,291.95) scale(1,1.1)" text-anchor="start" font-size="5.5" fill="#1c1c1c" >GDC-0077 + Palbociclib</text>
<line x1="41.30" y1="300.88" x2="52.30" y2="300.88" stroke="#f2aa5a" stroke-width="1.0" />
<rect x="44.45" y="298.73" width="4.3" height="4.3" fill="none" stroke="#efa04c" stroke-width="0.9"/>
<text transform="translate(56.20,303.33) scale(1,1.1)" text-anchor="start" font-size="5.5" fill="#1c1c1c" >GDC-0077 + Fulvestrant</text>
<line x1="41.30" y1="312.26" x2="52.30" y2="312.26" stroke="#d27450" stroke-width="1.0" />
<path d="M46.60,309.76 L49.20,314.16 L44.00,314.16Z" fill="none" stroke="#cc6440" stroke-width="0.9"/>
<text transform="translate(56.20,314.71) scale(1,1.1)" text-anchor="start" font-size="5.5" fill="#1c1c1c" >GDC-0077 + Palbo + Fulv</text>
</g>
</svg></div>
</body></html>
